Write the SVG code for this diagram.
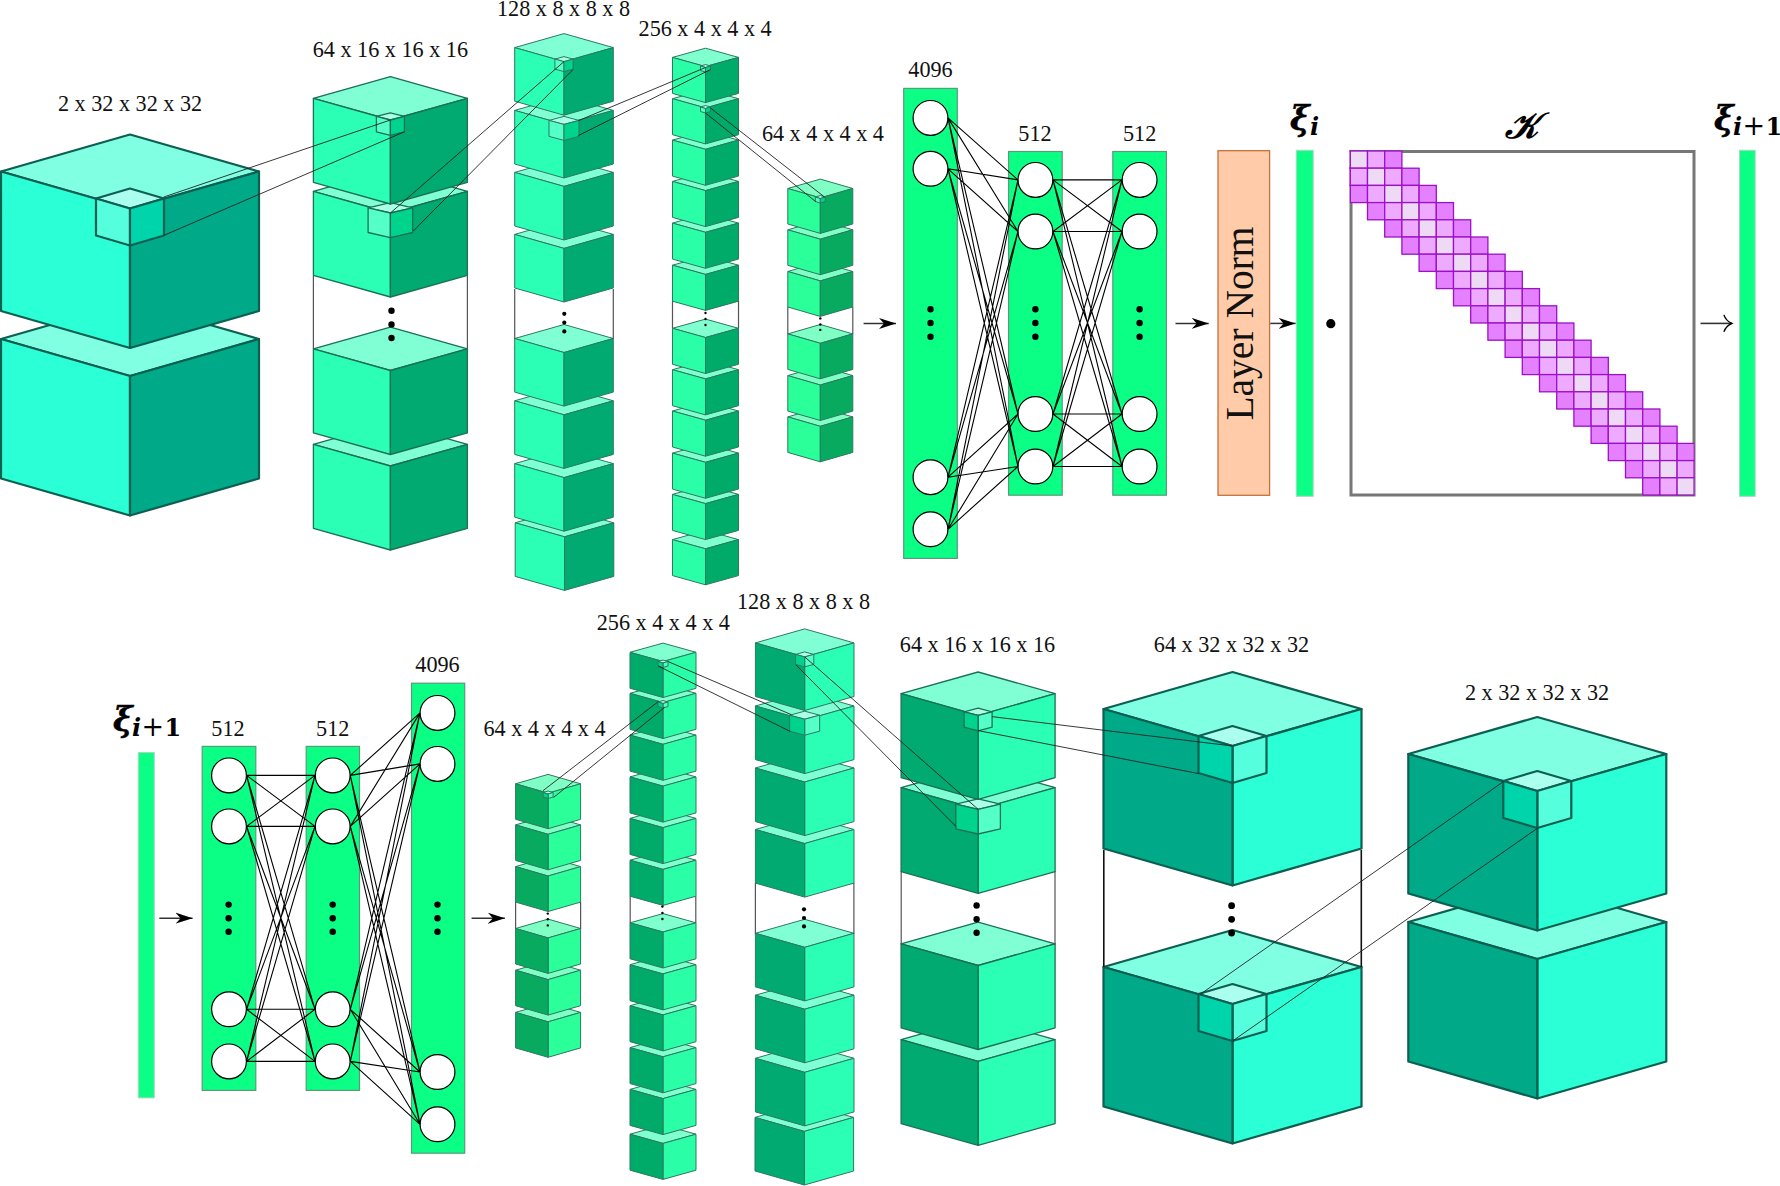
<svg xmlns="http://www.w3.org/2000/svg" width="1780" height="1186" viewBox="0 0 1780 1186">
<style>
text{font-family:"Liberation Serif","Times New Roman",serif;font-size:22.2px;fill:#111;text-anchor:middle}
.math{font-family:"DejaVu Serif",serif;font-weight:bold;font-style:italic;text-anchor:start;fill:#000}
.xi{font-size:33px;stroke:#000;stroke-width:.5}
.sub{font-size:24px}
.plus{font-style:normal;font-weight:normal;font-size:27px}
.one{font-style:normal;font-size:24px}
.lay{fill:#0bff85;stroke:#5a9a78;stroke-width:1.2}
.vec{fill:#0bff85;stroke:#a8d8c0;stroke-width:1}
.nn{fill:#fff;stroke:#000;stroke-width:1.2}
.dot{fill:#000}
.gap{stroke:#555;stroke-width:1.2;fill:none}
.gapb{stroke:#111;stroke-width:1.6;fill:none}
.cell{stroke:#9a12c4;stroke-width:1.3}
.con{stroke:#222;stroke-width:.9;fill:none}
.net{stroke:#000;stroke-width:1.1;fill:none}
.arr{stroke:#333;stroke-width:1.5;fill:none}
.k1{stroke:#0d5f52;stroke-width:2.2;stroke-linejoin:round}
.k2{stroke:#1b7055;stroke-width:1.3;stroke-linejoin:round}
.k3{stroke:#2b7a60;stroke-width:1;stroke-linejoin:round}
</style>
<defs>
<marker id="st" markerUnits="userSpaceOnUse" markerWidth="18" markerHeight="12" refX="17" refY="6" orient="auto"><path d="M17 6L0 .5L5 6L0 11.5Z" fill="#000"/></marker>
<marker id="op" markerUnits="userSpaceOnUse" markerWidth="14" markerHeight="22" refX="11" refY="11" orient="auto"><path d="M3 2.5Q5 8.5 11 11Q5 13.5 3 19.5" fill="none" stroke="#000" stroke-width="1.4"/></marker>
<g id="a" class="k1"><polygon fill="#80ffe3" points="-129,-37 0,-74 129,-37 0,0"/><polygon fill="#2affd5" points="-129,-37 0,0 0,139.5 -129,102.5"/><polygon fill="#00aa88" points="0,0 129,-37 129,102.5 0,139.5"/></g>
<g id="ia" class="k1"><polygon fill="#aaffee" points="-34,-10 0,-20 34,-10 0,0"/><polygon fill="#55ffdd" points="-34,-10 0,0 0,37 -34,27"/><polygon fill="#00d4aa" points="0,0 34,-10 34,27 0,37"/></g>
<g id="c2" class="k2"><polygon fill="#80ffd5" points="-77,-21.7 0,-43.4 77,-21.7 0,0"/><polygon fill="#2affb5" points="-77,-21.7 0,0 0,84 -77,62.3"/><polygon fill="#00aa70" points="0,0 77,-21.7 77,62.3 0,84"/></g>
<g id="i2s" class="k2"><polygon fill="#aaffe6" points="-14,-3.6 0,-7.2 14,-3.6 0,0"/><polygon fill="#55ffc8" points="-14,-3.6 0,0 0,15.4 -14,11.8"/><polygon fill="#00d48c" points="0,0 14,-3.6 14,11.8 0,15.4"/></g>
<g id="i2b" class="k2"><polygon fill="#aaffe6" points="-22.3,-5.2 0,-10.4 22.3,-5.2 0,0"/><polygon fill="#55ffc8" points="-22.3,-5.2 0,0 0,24.7 -22.3,19.5"/><polygon fill="#00d48c" points="0,0 22.3,-5.2 22.3,19.5 0,24.7"/></g>
<g id="c3" class="k3"><polygon fill="#80ffd5" points="-49.3,-14 0,-28 49.3,-14 0,0"/><polygon fill="#2affb5" points="-49.3,-14 0,0 0,53.6 -49.3,39.6"/><polygon fill="#00aa70" points="0,0 49.3,-14 49.3,39.6 0,53.6"/></g>
<g id="i3s" class="k3"><polygon fill="#aaffe6" points="-9.1,-2.5 0,-5 9.1,-2.5 0,0"/><polygon fill="#55ffc8" points="-9.1,-2.5 0,0 0,10 -9.1,7.5"/><polygon fill="#00d48c" points="0,0 9.1,-2.5 9.1,7.5 0,10"/></g>
<g id="i3b" class="k3"><polygon fill="#aaffe6" points="-15,-4 0,-8 15,-4 0,0"/><polygon fill="#55ffc8" points="-15,-4 0,0 0,16 -15,12"/><polygon fill="#00d48c" points="0,0 15,-4 15,12 0,16"/></g>
<g id="c4" class="k3"><polygon fill="#80ffcf" points="-33,-9.2 0,-18.4 33,-9.2 0,0"/><polygon fill="#2affa8" points="-33,-9.2 0,0 0,36 -33,26.8"/><polygon fill="#00aa68" points="0,0 33,-9.2 33,26.8 0,36"/></g>
<g id="c5" class="k3"><polygon fill="#80ffc4" points="-32.5,-9.4 0,-18.8 32.5,-9.4 0,0"/><polygon fill="#2aff9a" points="-32.5,-9.4 0,0 0,35.5 -32.5,26.1"/><polygon fill="#08aa60" points="0,0 32.5,-9.4 32.5,26.1 0,35.5"/></g>
<g id="i4" class="k3"><polygon fill="#aaffe0" points="-5,-1.5 0,-3 5,-1.5 0,0"/><polygon fill="#55ffc0" points="-5,-1.5 0,0 0,4.5 -5,3"/><polygon fill="#00d488" points="0,0 5,-1.5 5,3 0,4.5"/></g>
<g id="row" class="cell"><rect width="17.2" height="17.2" fill="#e580ff"/><rect x="17.2" width="17.2" height="17.2" fill="#eeaaff"/><rect x="34.4" width="17.2" height="17.2" fill="#eedaf5"/><rect x="51.6" width="17.2" height="17.2" fill="#eeaaff"/><rect x="68.8" width="17.2" height="17.2" fill="#e580ff"/></g>
<clipPath id="mclip"><rect x="1349.5" y="150" width="345" height="346"/></clipPath>
</defs>

<g id="enc-input">
<use href="#a" x="130" y="376"/><use href="#a" x="130" y="208.5"/><use href="#ia" x="130" y="208.5"/>
<text x="130" y="111.4">2 x 32 x 32 x 32</text>
</g>
<g id="enc-conv1">
<use href="#c2" x="390.4" y="466"/><use href="#c2" x="390.4" y="370.5"/>
<path class="gap" d="M313.4 276V348.5M467.4 276V348.5"/>
<use href="#c2" x="390.4" y="213"/><use href="#i2b" x="390.4" y="213"/>
<use href="#c2" x="390.4" y="120"/><use href="#i2s" x="390.4" y="120"/>
<circle class="dot" cx="391.5" cy="310.7" r="3.2"/><circle class="dot" cx="391.5" cy="324.4" r="3.2"/><circle class="dot" cx="391.5" cy="338" r="3.2"/>
<text x="390.4" y="57.4">64 x 16 x 16 x 16</text>
</g>
<g id="enc-conv2">
<use href="#c3" x="564.5" y="536.8"/><use href="#c3" x="564" y="477.6"/><use href="#c3" x="564" y="414.8"/><use href="#c3" x="564" y="352.5"/>
<path class="gap" d="M514.7 289V339M613.3 289V339"/>
<use href="#c3" x="564" y="248.4"/><use href="#c3" x="564" y="186.4"/><use href="#c3" x="564" y="124.4"/><use href="#i3b" x="564" y="124.4"/>
<use href="#c3" x="564" y="61.6"/><use href="#i3s" x="564" y="61.6"/>
<circle class="dot" cx="564.3" cy="313.8" r="2.1"/><circle class="dot" cx="564.3" cy="322.6" r="2.1"/><circle class="dot" cx="564.3" cy="331.4" r="2.1"/>
<text x="563.5" y="16">128 x 8 x 8 x 8</text>
</g>
<g id="enc-conv3">
<use href="#c4" x="705.5" y="548.8"/><use href="#c4" x="705.5" y="503.6"/><use href="#c4" x="705.5" y="462.3"/><use href="#c4" x="705.5" y="420.2"/><use href="#c4" x="705.5" y="378.9"/><use href="#c4" x="705.5" y="337.5"/>
<path class="gap" d="M672.5 301V328M738.5 301V328"/>
<use href="#c4" x="705.5" y="274.4"/><use href="#c4" x="705.5" y="232.3"/><use href="#c4" x="705.5" y="190.6"/><use href="#c4" x="705.5" y="149.3"/><use href="#c4" x="705.5" y="107.9"/><use href="#i4" x="705.5" y="108.5"/>
<use href="#c4" x="705.5" y="66.6"/><use href="#i4" x="705.5" y="67.5"/>
<circle class="dot" cx="705.5" cy="313" r="1.2"/><circle class="dot" cx="705.5" cy="319" r="1.2"/><circle class="dot" cx="705.5" cy="325" r="1.2"/>
<text x="705.1" y="36.4">256 x 4 x 4 x 4</text>
</g>
<g id="enc-conv4">
<use href="#c5" x="820.3" y="426.3"/><use href="#c5" x="820.3" y="385"/><use href="#c5" x="820.3" y="343.3"/>
<path class="gap" d="M787.8 307V334M852.8 307V334"/>
<use href="#c5" x="820.3" y="280.9"/><use href="#c5" x="820.3" y="239.2"/><use href="#c5" x="820.3" y="197.9"/><use href="#i4" x="820.3" y="198.5"/>
<circle class="dot" cx="820.3" cy="318.4" r="1.2"/><circle class="dot" cx="820.3" cy="324.5" r="1.2"/><circle class="dot" cx="820.3" cy="329.9" r="1.2"/>
<text x="822.9" y="140.8">64 x 4 x 4 x 4</text>
</g>
<g id="enc-fc-4096">
<rect class="lay" x="903.7" y="88.4" width="53.6" height="470"/>
<circle class="nn" cx="930.5" cy="117.9" r="17.4"/><circle class="nn" cx="930.5" cy="168.8" r="17.4"/><circle class="nn" cx="930.5" cy="477.2" r="17.4"/><circle class="nn" cx="930.5" cy="529.3" r="17.4"/>
<circle class="dot" cx="930.5" cy="309.2" r="3.2"/><circle class="dot" cx="930.5" cy="323" r="3.2"/><circle class="dot" cx="930.5" cy="336.8" r="3.2"/>
<text x="930.5" y="76.9">4096</text>
</g>
<g id="enc-fc-512a">
<rect class="lay" x="1008.6" y="151.5" width="53.6" height="343.7"/>
<circle class="nn" cx="1035.4" cy="179.9" r="17.4"/><circle class="nn" cx="1035.4" cy="231.5" r="17.4"/><circle class="nn" cx="1035.4" cy="414" r="17.4"/><circle class="nn" cx="1035.4" cy="466.5" r="17.4"/>
<circle class="dot" cx="1035.4" cy="309.2" r="3.2"/><circle class="dot" cx="1035.4" cy="323" r="3.2"/><circle class="dot" cx="1035.4" cy="336.8" r="3.2"/>
<text x="1035" y="140.8">512</text>
</g>
<g id="enc-fc-512b">
<rect class="lay" x="1112.8" y="151.5" width="53.6" height="343.7"/>
<circle class="nn" cx="1139.6" cy="179.9" r="17.4"/><circle class="nn" cx="1139.6" cy="231.5" r="17.4"/><circle class="nn" cx="1139.6" cy="414" r="17.4"/><circle class="nn" cx="1139.6" cy="466.5" r="17.4"/>
<circle class="dot" cx="1139.6" cy="309.2" r="3.2"/><circle class="dot" cx="1139.6" cy="323" r="3.2"/><circle class="dot" cx="1139.6" cy="336.8" r="3.2"/>
<text x="1139.6" y="140.8">512</text>
</g>
<g id="layer-norm">
<rect x="1218" y="150.7" width="51.6" height="344.6" fill="#ffcba8" stroke="#c8703c" stroke-width="1.3"/>
<text transform="translate(1253 323.5) rotate(-90)" style="font-size:39.5px">Layer Norm</text>
</g>
<g id="xi-i">
<rect class="vec" x="1296.3" y="150.3" width="16.9" height="346"/>
<text class="math" x="1290" y="130"><tspan class="xi">ξ</tspan><tspan class="sub" x="1310" y="135">i</tspan></text>
</g>
<circle id="dot-product" class="dot" cx="1330.8" cy="323.7" r="4.6"/>
<g id="kernel">
<rect x="1351" y="151.5" width="343" height="343.5" fill="#fff" stroke="#777" stroke-width="3"/>
<g clip-path="url(#mclip)">
<use href="#row" x="1315.9" y="151"/><use href="#row" x="1333.1" y="168.2"/><use href="#row" x="1350.3" y="185.4"/><use href="#row" x="1367.5" y="202.6"/><use href="#row" x="1384.7" y="219.8"/><use href="#row" x="1401.9" y="237"/><use href="#row" x="1419.1" y="254.2"/><use href="#row" x="1436.3" y="271.4"/><use href="#row" x="1453.5" y="288.6"/><use href="#row" x="1470.7" y="305.8"/><use href="#row" x="1487.9" y="323"/><use href="#row" x="1505.1" y="340.2"/><use href="#row" x="1522.3" y="357.4"/><use href="#row" x="1539.5" y="374.6"/><use href="#row" x="1556.7" y="391.8"/><use href="#row" x="1573.9" y="409"/><use href="#row" x="1591.1" y="426.2"/><use href="#row" x="1608.3" y="443.4"/><use href="#row" x="1625.5" y="460.6"/><use href="#row" x="1642.7" y="477.8"/>
</g>
<text class="math" x="1505" y="138" style="font-size:36px">𝒦</text>
</g>
<g id="xi-ip1-top">
<rect class="vec" x="1739.5" y="150.3" width="15.7" height="346"/>
<text class="math" x="1714" y="130"><tspan class="xi">ξ</tspan><tspan class="sub" x="1733" y="135">i</tspan><tspan class="plus" x="1742.5" y="135">+</tspan><tspan class="one" x="1765.5" y="135">1</tspan></text>
</g>

<g id="xi-ip1-bottom">
<rect class="vec" x="138.3" y="752.5" width="16" height="345.4"/>
<text class="math" x="113" y="731"><tspan class="xi">ξ</tspan><tspan class="sub" x="132" y="736">i</tspan><tspan class="plus" x="141.5" y="736">+</tspan><tspan class="one" x="164.5" y="736">1</tspan></text>
</g>
<g id="dec-fc-512a">
<rect class="lay" x="202.2" y="746.4" width="53.6" height="344"/>
<circle class="nn" cx="229" cy="775.4" r="17.4"/><circle class="nn" cx="229" cy="826.4" r="17.4"/><circle class="nn" cx="229" cy="1009.3" r="17.4"/><circle class="nn" cx="229" cy="1061.4" r="17.4"/>
<circle class="dot" cx="228.6" cy="904.6" r="3.2"/><circle class="dot" cx="228.6" cy="918.2" r="3.2"/><circle class="dot" cx="228.6" cy="931.8" r="3.2"/>
<text x="228" y="735.5">512</text>
</g>
<g id="dec-fc-512b">
<rect class="lay" x="306.2" y="746.4" width="53.3" height="344"/>
<circle class="nn" cx="332.7" cy="775.4" r="17.4"/><circle class="nn" cx="332.7" cy="826.4" r="17.4"/><circle class="nn" cx="332.7" cy="1009.3" r="17.4"/><circle class="nn" cx="332.7" cy="1061.4" r="17.4"/>
<circle class="dot" cx="332.7" cy="904.6" r="3.2"/><circle class="dot" cx="332.7" cy="918.2" r="3.2"/><circle class="dot" cx="332.7" cy="931.8" r="3.2"/>
<text x="332.7" y="735.5">512</text>
</g>
<g id="dec-fc-4096">
<rect class="lay" x="411.5" y="683.2" width="53.2" height="470"/>
<circle class="nn" cx="437.5" cy="712.9" r="17.4"/><circle class="nn" cx="437.5" cy="763.9" r="17.4"/><circle class="nn" cx="437.5" cy="1072" r="17.4"/><circle class="nn" cx="437.5" cy="1124.3" r="17.4"/>
<circle class="dot" cx="437.5" cy="904.6" r="3.2"/><circle class="dot" cx="437.5" cy="918.2" r="3.2"/><circle class="dot" cx="437.5" cy="931.8" r="3.2"/>
<text x="437.5" y="671.5">4096</text>
</g>
<g id="dec-conv1">
<use href="#c5" transform="translate(548.1 1021.8) scale(-1 1)"/><use href="#c5" transform="translate(548.1 979.6) scale(-1 1)"/><use href="#c5" transform="translate(548.1 937.9) scale(-1 1)"/>
<path class="gap" d="M515.6 902V929M580.6 902V929"/>
<use href="#c5" transform="translate(548.1 876) scale(-1 1)"/><use href="#c5" transform="translate(548.1 834.3) scale(-1 1)"/><use href="#c5" transform="translate(548.1 793.2) scale(-1 1)"/><use href="#i4" transform="translate(548.1 794) scale(-1 1)"/>
<circle class="dot" cx="547.8" cy="913.6" r="1.2"/><circle class="dot" cx="547.8" cy="919.3" r="1.2"/><circle class="dot" cx="547.8" cy="925.4" r="1.2"/>
<text x="544.5" y="736">64 x 4 x 4 x 4</text>
</g>
<g id="dec-conv2">
<use href="#c4" transform="translate(663 1143.4) scale(-1 1)"/><use href="#c4" transform="translate(663 1098.6) scale(-1 1)"/><use href="#c4" transform="translate(663 1056.8) scale(-1 1)"/><use href="#c4" transform="translate(663 1014.9) scale(-1 1)"/><use href="#c4" transform="translate(663 973.9) scale(-1 1)"/><use href="#c4" transform="translate(663 932) scale(-1 1)"/>
<path class="gap" d="M630.2 896V923M695.8 896V923"/>
<use href="#c4" transform="translate(663 869.4) scale(-1 1)"/><use href="#c4" transform="translate(663 827.6) scale(-1 1)"/><use href="#c4" transform="translate(663 786.1) scale(-1 1)"/><use href="#c4" transform="translate(663 744.3) scale(-1 1)"/><use href="#c4" transform="translate(663 702.5) scale(-1 1)"/><use href="#i4" transform="translate(663 703.5) scale(-1 1)"/>
<use href="#c4" transform="translate(663 661.5) scale(-1 1)"/><use href="#i4" transform="translate(663 663) scale(-1 1)"/>
<circle class="dot" cx="662.4" cy="906.6" r="1.2"/><circle class="dot" cx="662.4" cy="913" r="1.2"/><circle class="dot" cx="662.4" cy="919" r="1.2"/>
<text x="663.3" y="630">256 x 4 x 4 x 4</text>
</g>
<g id="dec-conv3">
<use href="#c3" transform="translate(804.3 1131.4) scale(-1 1)"/><use href="#c3" transform="translate(804.7 1072.3) scale(-1 1)"/><use href="#c3" transform="translate(804.7 1009.2) scale(-1 1)"/><use href="#c3" transform="translate(804.7 947.3) scale(-1 1)"/>
<path class="gap" d="M755.4 883V934M853.9 883V934"/>
<use href="#c3" transform="translate(804.7 843.5) scale(-1 1)"/><use href="#c3" transform="translate(804.7 782) scale(-1 1)"/><use href="#c3" transform="translate(804.7 720) scale(-1 1)"/><use href="#i3b" transform="translate(804.7 719.2) scale(-1 1)"/>
<use href="#c3" transform="translate(804.7 656.9) scale(-1 1)"/><use href="#i3s" transform="translate(804.7 656.9) scale(-1 1)"/>
<circle class="dot" cx="804" cy="909.3" r="2.1"/><circle class="dot" cx="804" cy="918" r="2.1"/><circle class="dot" cx="804" cy="926.4" r="2.1"/>
<text x="803.5" y="609">128 x 8 x 8 x 8</text>
</g>
<g id="dec-conv4">
<use href="#c2" transform="translate(978.1 1061.3) scale(-1 1)"/><use href="#c2" transform="translate(978.1 965.5) scale(-1 1)"/>
<path class="gap" d="M901.2 871V944.5M1055 871V944.5"/>
<use href="#c2" transform="translate(978.1 809.3) scale(-1 1)"/><use href="#i2b" transform="translate(978.1 809.3) scale(-1 1)"/>
<use href="#c2" transform="translate(978.1 715.4) scale(-1 1)"/><use href="#i2s" transform="translate(978.1 715.4) scale(-1 1)"/>
<circle class="dot" cx="976.6" cy="905.5" r="3.2"/><circle class="dot" cx="976.6" cy="919.2" r="3.2"/><circle class="dot" cx="976.6" cy="932.8" r="3.2"/>
<text x="977.5" y="651.6">64 x 16 x 16 x 16</text>
</g>
<g id="dec-conv5">
<use href="#a" transform="translate(1232.5 1004) scale(-1 1)"/><use href="#ia" transform="translate(1232.5 1004) scale(-1 1)"/>
<path class="gapb" d="M1103.8 850V967M1361.3 850V967"/>
<use href="#a" transform="translate(1232.5 746) scale(-1 1)"/><use href="#ia" transform="translate(1232.5 746) scale(-1 1)"/>
<circle class="dot" cx="1231.6" cy="905.7" r="3.4"/><circle class="dot" cx="1231.6" cy="919.3" r="3.4"/><circle class="dot" cx="1231.6" cy="933" r="3.4"/>
<text x="1231.5" y="651.7">64 x 32 x 32 x 32</text>
</g>
<g id="dec-output">
<use href="#a" transform="translate(1537.3 959) scale(-1 1)"/>
<use href="#a" transform="translate(1537.3 791) scale(-1 1)"/><use href="#ia" transform="translate(1537.3 791) scale(-1 1)"/>
<text x="1537" y="700">2 x 32 x 32 x 32</text>
</g>

<g id="connectors">
<g class="con">
<path d="M163.8 197L390.4 120M163.8 235.4L404.4 131.8"/>
<path d="M390.4 213L564 61.6M413.3 231L573 69.6"/>
<path d="M578.5 120.6L705.5 67.5M578.5 135.5L710.5 69.5"/>
<path d="M710.5 108L824.5 197M705.5 113L815.8 201.7"/>
<path d="M543 790.7L658.5 701.4M553.5 797.5L664.5 707.5"/>
<path d="M668 661.5L791.4 714.7M658.2 666L790.2 731.4"/>
<path d="M804.7 656.9L978.1 809.3M796 664.9L955.9 826.4"/>
<path d="M991.9 716.6L1232.5 746M978.1 730.6L1198.7 773.6"/>
<path d="M1200.2 994.3L1503.3 781.7M1232.5 1041L1537.4 828.3"/>
</g>
<path class="net" d="M948 117.9L1018 179.9M948 117.9L1018 231.5M948 117.9L1018 414M948 117.9L1018 466.5M948 168.8L1018 179.9M948 168.8L1018 231.5M948 168.8L1018 414M948 168.8L1018 466.5M948 477.2L1018 179.9M948 477.2L1018 231.5M948 477.2L1018 414M948 477.2L1018 466.5M948 529.3L1018 179.9M948 529.3L1018 231.5M948 529.3L1018 414M948 529.3L1018 466.5"/>
<path class="net" d="M1053 179.9L1122 179.9M1053 179.9L1122 231.5M1053 179.9L1122 414M1053 179.9L1122 466.5M1053 231.5L1122 179.9M1053 231.5L1122 231.5M1053 231.5L1122 414M1053 231.5L1122 466.5M1053 414L1122 179.9M1053 414L1122 231.5M1053 414L1122 414M1053 414L1122 466.5M1053 466.5L1122 179.9M1053 466.5L1122 231.5M1053 466.5L1122 414M1053 466.5L1122 466.5"/>
<path class="net" d="M246.6 775.4L315 775.4M246.6 775.4L315 826.4M246.6 775.4L315 1009.3M246.6 775.4L315 1061.4M246.6 826.4L315 775.4M246.6 826.4L315 826.4M246.6 826.4L315 1009.3M246.6 826.4L315 1061.4M246.6 1009.3L315 775.4M246.6 1009.3L315 826.4M246.6 1009.3L315 1009.3M246.6 1009.3L315 1061.4M246.6 1061.4L315 775.4M246.6 1061.4L315 826.4M246.6 1061.4L315 1009.3M246.6 1061.4L315 1061.4"/>
<path class="net" d="M350.3 775.4L420 712.9M350.3 775.4L420 763.9M350.3 775.4L420 1072M350.3 775.4L420 1124.3M350.3 826.4L420 712.9M350.3 826.4L420 763.9M350.3 826.4L420 1072M350.3 826.4L420 1124.3M350.3 1009.3L420 712.9M350.3 1009.3L420 763.9M350.3 1009.3L420 1072M350.3 1009.3L420 1124.3M350.3 1061.4L420 712.9M350.3 1061.4L420 763.9M350.3 1061.4L420 1072M350.3 1061.4L420 1124.3"/>
<path class="arr" marker-end="url(#st)" d="M863.6 323.4H896"/>
<path class="arr" marker-end="url(#st)" d="M1175.5 323.4H1208.7"/>
<path class="arr" marker-end="url(#st)" d="M1270.3 323.4H1295.6"/>
<path class="arr" marker-end="url(#op)" d="M1700.5 323.4H1731.9" style="stroke-width:1.6"/>
<path class="arr" marker-end="url(#st)" d="M159.3 918.2H192.6"/>
<path class="arr" marker-end="url(#st)" d="M471.6 918.2H504.9"/>
</g>
</svg>
